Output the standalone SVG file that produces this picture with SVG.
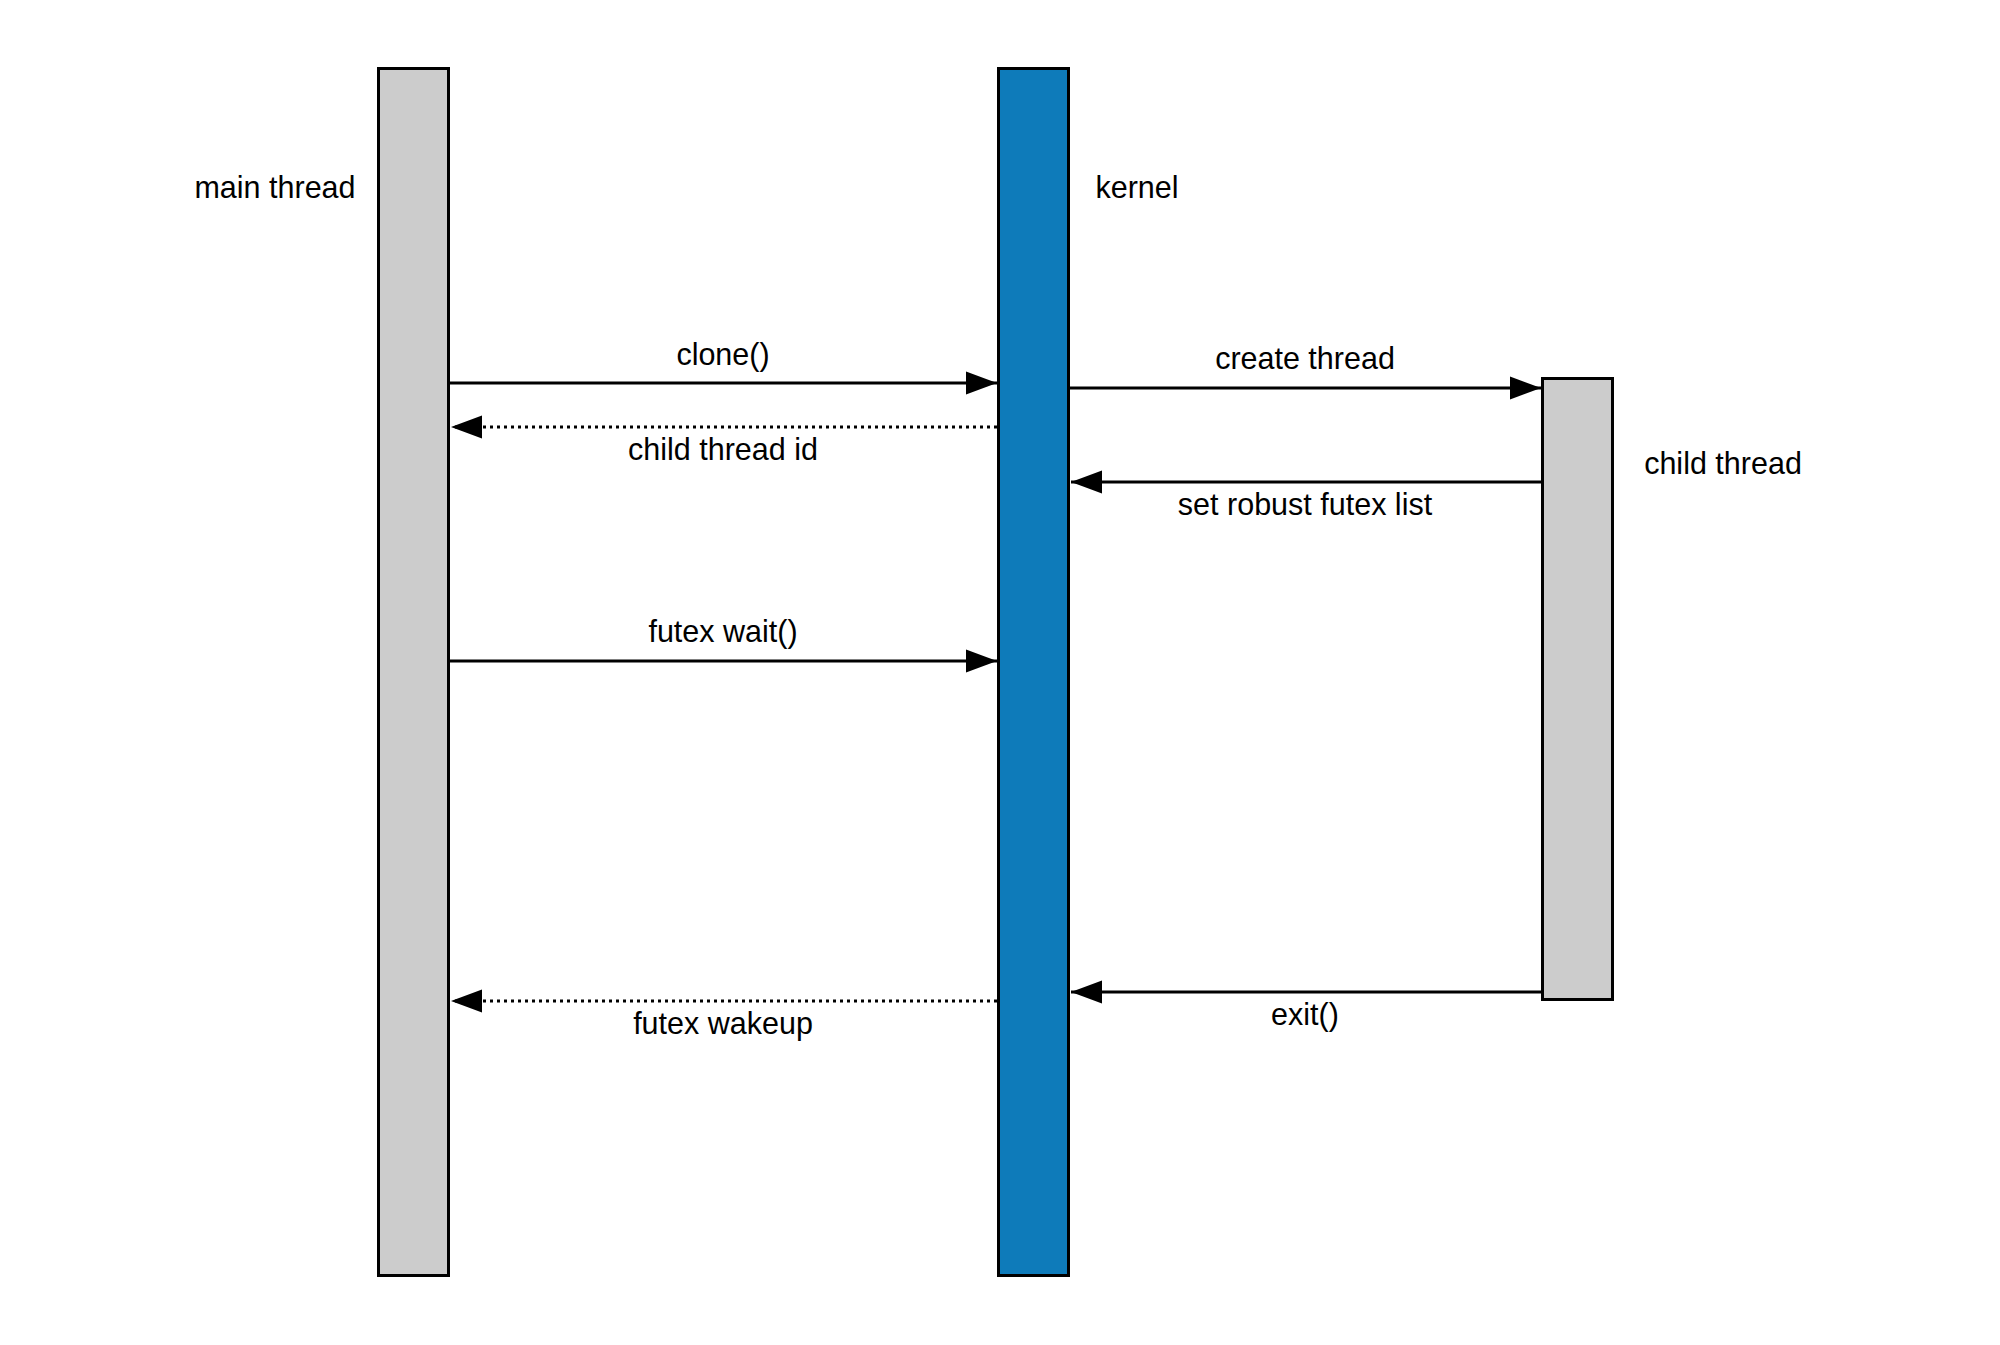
<svg xmlns="http://www.w3.org/2000/svg" width="2000" height="1345" viewBox="0 0 2000 1345">
  <style>
    .bar { stroke: #000; stroke-width: 3; }
    .gray { fill: #cccccc; }
    .blue { fill: #0e7bba; }
    .lbl { font-family: "Liberation Sans", Arial, sans-serif; font-size: 30.5px; fill: #000; }
    .mid { text-anchor: middle; }
    .msg { stroke: #000; stroke-width: 3; fill: none; marker-end: url(#ah); }
    .dot { stroke-dasharray: 3 4; }
  </style>
  <defs>
    <marker id="ah" markerUnits="userSpaceOnUse" markerWidth="31" markerHeight="24" refX="31" refY="12" orient="auto">
      <path d="M0,0.5 L31,12 L0,23.5 z" fill="#000"/>
    </marker>
  </defs>
  <rect width="2000" height="1345" fill="#fff"/>

  <g id="main-thread">
    <rect class="bar gray" x="378.5" y="68.5" width="70" height="1207"/>
    <text class="lbl mid" x="275" y="198">main thread</text>
  </g>
  <g id="kernel">
    <rect class="bar blue" x="998.5" y="68.5" width="70" height="1207"/>
    <text class="lbl mid" x="1137" y="198">kernel</text>
  </g>
  <g id="child-thread">
    <rect class="bar gray" x="1542.5" y="378.5" width="70" height="621"/>
    <text class="lbl mid" x="1723" y="474">child thread</text>
  </g>

  <g id="connectors">
    <line class="msg" x1="450" y1="383" x2="997" y2="383"/>
    <text class="lbl mid" x="723" y="365">clone()</text>
    <line class="msg dot" x1="997" y1="427" x2="451" y2="427"/>
    <text class="lbl mid" x="723" y="460">child thread id</text>
    <line class="msg" x1="1070" y1="388" x2="1541" y2="388"/>
    <text class="lbl mid" x="1305" y="369">create thread</text>
    <line class="msg" x1="1541" y1="482" x2="1071" y2="482"/>
    <text class="lbl mid" x="1305" y="515">set robust futex list</text>
    <line class="msg" x1="450" y1="661" x2="997" y2="661"/>
    <text class="lbl mid" x="723" y="642">futex wait()</text>
    <line class="msg dot" x1="997" y1="1001" x2="451" y2="1001"/>
    <text class="lbl mid" x="723" y="1034">futex wakeup</text>
    <line class="msg" x1="1541" y1="992" x2="1071" y2="992"/>
    <text class="lbl mid" x="1305" y="1025">exit()</text>
  </g>
</svg>
